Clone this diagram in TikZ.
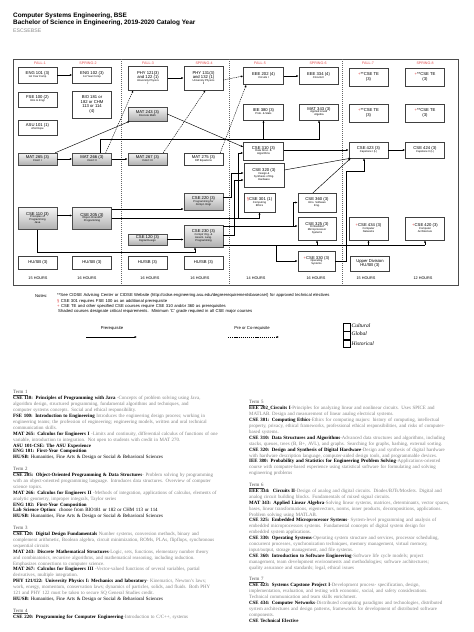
\documentclass[tikz,border=0pt]{standalone}
\usepackage{fontspec}
\setmainfont{Liberation Serif}
\setsansfont{Liberation Sans}
\usetikzlibrary{arrows.meta,calc}
\definecolor{hdr}{RGB}{225,70,70}
\definecolor{dg}{RGB}{128,128,128}
\definecolor{tg}{RGB}{80,80,80}
\newcommand\fs[2]{\fontsize{#1}{#2}\selectfont}
\newcommand\bx[2]{\begin{tabular}{@{}c@{}}#1\\[-1.2pt]{\fs{2.7}{3.1}\begin{tabular}{@{}c@{}}#2\end{tabular}}\end{tabular}}
\newcommand\rd[1]{\textcolor{hdr}{#1}}
\newcommand\dsc[1]{\textcolor{dg}{#1}}
\begin{document}
\begin{tikzpicture}[x=1pt,y=-1pt,
 cbox/.style={draw=black!75, line width=0.45pt, fill=white, inner sep=0.3pt, align=center, font=\sffamily\fs{4.2}{4.7}, minimum width=39pt},
 crit/.style={cbox, top color=gray!8, bottom color=gray!62, draw=black!70},
 arr/.style={-{Latex[length=2.4pt,width=2pt]}, line width=0.45pt},
 coreq/.style={arr, dash pattern=on 1.2pt off 0.9pt},
 hdrl/.style={font=\sffamily\fs{3.6}{4}, text=hdr},
 hrs/.style={font=\sffamily\fs{3.8}{4.2}},
 colsep/.style={line width=0.4pt, black!60, dash pattern=on 1pt off 1pt},
 desc/.style={anchor=north west, inner sep=0, align=left, font=\fs{4.9}{5.9}},
]
\useasboundingbox (0,0) rectangle (474,632);

% title
\node[anchor=west, inner sep=0, font=\sffamily\bfseries\fs{6.4}{7}] (t1) at (13,15.5) {Computer Systems Engineering, BSE};
\node[anchor=west, inner sep=0, font=\sffamily\bfseries\fs{6.4}{7}] (t2) at (13,23) {Bachelor of Science in Engineering, 2019-2020 Catalog Year};
\node[anchor=west, inner sep=0, font=\sffamily\fs{5.2}{6}, text=black!45] (t3) at (13,31) {ESCSEBSE};

% frame
\draw[line width=0.6pt, black!70] (13,59) rectangle (458,285);
\draw[colsep] (121,59) -- (121,285);
\draw[colsep] (229,59) -- (229,285);
\draw[colsep] (342,59) -- (342,285);

% semester headers
\node[hdrl] (h1) at (40,63) {FALL-1};
\node[hdrl] (h2) at (88,63) {SPRING-2};
\node[hdrl] (h3) at (148,63) {FALL-3};
\node[hdrl] (h4) at (204,63) {SPRING-4};
\node[hdrl] (h5) at (260,63) {FALL-5};
\node[hdrl] (h6) at (318,63) {SPRING-6};
\node[hdrl] (h7) at (368,63) {FALL-7};
\node[hdrl] (h8) at (425,63) {SPRING-8};

% column 1
\node[cbox, minimum height=16pt] (eng101) at (37.5,75) {\bx{ENG 101 (3)}{1st Year Comp}};
\node[cbox, minimum height=15pt] (fse100) at (37.5,99.5) {\bx{FSE 100 (2)}{Intro to Engr}};
\node[cbox, minimum height=15pt] (asu101) at (37.5,127.5) {\bx{ASU 101 (1)}{ASU Expe}};
\node[crit, minimum height=12pt] (mat265) at (37.5,159) {\bx{MAT 265 (3)}{CALC I}};
\node[crit, minimum height=22pt] (cse110) at (37.5,218.5) {\bx{CSE 110 (3)}{Principles of\\Programming\\Java}};
\node[cbox, minimum height=13pt] (hu1) at (38,262.5) {HU/SB (3)};
% column 2
\node[cbox, minimum height=16pt] (eng102) at (92,75) {\bx{ENG 102 (3)}{1st Year Comp}};
\node[cbox, minimum height=27pt] (bio) at (92,104.5) {BIO 181 or\\182 or CHM\\113 or 114\\(4)};
\node[crit, minimum height=12pt] (mat266) at (92,159) {\bx{MAT 266 (3)}{CALC II}};
\node[crit, minimum height=22pt] (cse205) at (92,218) {\bx{CSE 205 (3)}{Object-Oriented\\Programming}};
\node[cbox, minimum height=13pt] (hu2) at (92,262.5) {HU/SB (3)};
% column 3
\node[cbox, minimum height=24pt] (phy121) at (148,78) {\bx{PHY 121(3)\\and 122 (1)}{University Physics\\I}};
\node[crit, minimum height=14pt] (mat243) at (147.5,114) {\bx{MAT 243 (3)}{Discrete Math}};
\node[crit, minimum height=12pt] (mat267) at (147.5,159) {\bx{MAT 267 (3)}{CALC III}};
\node[crit, minimum height=11pt] (cse120) at (147.5,239.5) {\bx{CSE 120 (3)}{Digital Design}};
\node[cbox, minimum height=13pt] (hu3) at (147.5,262.5) {HU/SB (3)};
% column 4
\node[cbox, minimum height=24pt] (phy131) at (203.5,78) {\bx{PHY 131(3)\\and 132 (1)}{University Physics\\II}};
\node[cbox, minimum height=12pt] (mat275) at (203.5,159) {\bx{MAT 275 (3)}{Diff Equations}};
\node[crit, minimum height=17pt] (cse220) at (203.5,201.5) {\bx{CSE 220 (3)}{Programming for\\Compt. Engr}};
\node[crit, minimum height=22pt] (cse230) at (203.5,236) {\bx{CSE 230 (3)}{Comptr Org. \&\\Assem. Lang.\\Programming}};
\node[cbox, minimum height=13pt] (hu4) at (203.5,262.5) {HU/SB (3)};
% column 5
\node[cbox, minimum height=17pt, minimum width=40pt] (eee202) at (263.5,76) {\bx{EEE 202 (4)}{Circuits I}};
\node[cbox, minimum height=16pt, minimum width=40pt] (iee380) at (263.5,112) {\bx{IEE 380 (3)}{Prob. \& Stats}};
\node[cbox, minimum height=18pt, minimum width=40pt] (cse310) at (263.5,151) {\bx{CSE 310 (3)}{Data Struc. \&\\Algorithms}};
\node[cbox, minimum height=24pt, minimum width=40pt] (cse320) at (264,175) {\bx{CSE 320 (3)}{Design \&\\Synthesis of Dig.\\Hardware}};
\node[cbox, minimum height=19pt, minimum width=31pt] (cse301) at (259.5,202.5) {\bx{\rd{§}CSE 301 (1)}{Computing\\Ethics}};
% column 6
\node[cbox, minimum height=17pt] (eee334) at (318.5,76) {\bx{EEE 334 (4)}{Circuits II}};
\node[cbox, minimum height=16pt] (mat343) at (319,112) {\bx{MAT 343 (3)}{Applied Linear\\Algebra}};
\node[cbox, minimum height=19pt, minimum width=38pt] (cse360) at (317,202.5) {\bx{CSE 360 (3)}{Intro. Software\\Eng.}};
\node[cbox, minimum height=23pt, minimum width=38pt] (cse325) at (317,228.5) {\bx{CSE 325 (3)}{Embedded\\Microprocessor\\Systems}};
\node[cbox, minimum height=20pt, minimum width=37pt] (cse330) at (316.5,261) {\bx{\rd{+}CSE 330 (3)}{Operating\\Systems}};
% column 7
\node[cbox, minimum height=18pt] (te1) at (368.5,77) {\rd{+}**CSE TE\\(3)};
\node[cbox, minimum height=18pt] (te3) at (368.5,113) {\rd{+}**CSE TE\\(3)};
\node[cbox, minimum height=16pt] (cse423) at (368.5,150) {\bx{CSE 423 (3)}{Capstone I (L)}};
\node[cbox, minimum height=23pt] (cse434) at (368.5,228.5) {\bx{\rd{+}CSE 434 (3)}{Computer\\Networks}};
\node[cbox, minimum height=15pt] (udhu) at (370,263.5) {Upper Division\\HU/SB (3)};
% column 8
\node[cbox, minimum height=18pt] (te2) at (425,77) {\rd{+}**CSE TE\\(3)};
\node[cbox, minimum height=18pt] (te4) at (425,113) {\rd{+}**CSE TE\\(3)};
\node[cbox, minimum height=16pt] (cse424) at (425,150) {\bx{CSE 424 (3)}{Capstone II (L)}};
\node[cbox, minimum height=23pt] (cse420) at (425,228.5) {\bx{\rd{+}CSE 420 (3)}{Computer\\Architecture}};

% hours
\node[hrs] (hr1) at (38,278) {15 HOURS};
\node[hrs] (hr2) at (87,278) {16 HOURS};
\node[hrs] (hr3) at (150,278) {16 HOURS};
\node[hrs] (hr4) at (200,278) {16 HOURS};
\node[hrs] (hr5) at (256,278) {14 HOURS};
\node[hrs] (hr6) at (316,278) {16 HOURS};
\node[hrs] (hr7) at (366,278) {15 HOURS};
\node[hrs] (hr8) at (423,278) {12 HOURS};

% connectors
\draw[arr] (eng101) -- (eng102);
\draw[arr] (phy121) -- (phy131);
\draw[coreq] ([yshift=-2pt]phy131.east) -- (eee202.west);
\draw[arr] (eee202) -- (eee334);
\draw[arr] (mat265) -- (mat266);
\draw[arr] (mat266) -- (mat267);
\draw[arr] ([xshift=-2pt]mat265.north east) -- ([xshift=2pt]mat243.south west);
\draw[coreq] ([xshift=-6pt]mat266.north east) -- ([xshift=5pt]phy121.south west);
\draw[coreq] ([xshift=-4pt]mat267.north east) -- ([xshift=2pt]phy131.south);
\draw[coreq] ([xshift=-3pt]mat275.north east) -- ([xshift=3pt]eee202.south west);
\draw[arr] (mat243.east) -- ([yshift=4pt]cse310.west);
\coordinate (h139) at (0,139);
\draw[arr] ([xshift=8pt]mat266.north) |- (h139 -| mat343.south) -- (mat343.south);
\draw[arr] (h139 -| iee380.south) -- (iee380.south);
\draw[arr] (cse310.east |- cse423.west) -- (cse423.west);
\draw[arr] (cse423) -- (cse424);
\draw[arr] ([yshift=5pt]cse320.east) -- ([xshift=2pt]cse423.south west);
\draw[arr] ([xshift=-4pt]cse360.north) -- ([xshift=2pt]cse423.south west);
\coordinate (c330) at (346,171);
\draw[arr] (cse330.east) -| (c330) -| ([xshift=-4.5pt]cse423.south);
\draw[arr] ([yshift=3pt]cse110.east) -- ([yshift=3pt]cse110.east -| cse205.west);
\draw[arr] ([yshift=9pt]cse205.east) -- ([yshift=9pt]cse205.east -| cse220.west);
\draw[arr] (cse205.east) -| (cse301.south);
\coordinate (j1) at (238,218);
\draw[arr] (j1) |- ([yshift=-2pt]cse310.west);
\coordinate (v1) at (231,173);
\draw[arr] ([yshift=4.5pt]cse220.east) -| (v1) -- (v1 -| cse320.west);
\coordinate (v2) at (234.5,180);
\draw[arr] ([yshift=1pt]cse230.east) -| (v2) -- (v2 -| cse320.west);
\draw[arr] ([yshift=10pt]cse230.east) -- ([yshift=10pt]cse230.east -| cse325.west);
\coordinate (v3) at (293,226);
\draw[arr] (v3) |- (cse360.west);
\coordinate (hb) at (0,245);
\draw[line width=0.45pt] ([yshift=-9pt]cse230.east) -- (hb -| cse420.south);
\draw[arr] (hb -| cse325.south) -- (cse325.south);
\draw[arr] (hb -| cse434.south) -- (cse434.south);
\draw[arr] (hb -| cse420.south) -- (cse420.south);
\coordinate (b330) at (276,245);
\draw[arr] (b330) |- (cse330.west);
\coordinate (lb) at (0,252);
\draw[arr] (cse110.south) |- ([xshift=-8.5pt]cse230.south |- lb) -- ([xshift=-8.5pt]cse230.south);
\draw[arr] (cse120) -- (cse120 -| cse230.west);

% notes
\node[anchor=west, inner sep=0, font=\sffamily\fs{4.2}{5.3}] (notes) at (35,296) {Notes:};
\node[anchor=north west, inner sep=0, align=left, text width=400pt, font=\sffamily\fs{4.2}{5.3}] (notetext) at (57,293.6) {%
**See CIDSE Advising Center or CIDSE Website (http://cidse.engineering.asu.edu/degreerequirementsbasecse/) for approved technical electives\\
\rd{§} CSE 301 requires FSE 100 as an additional prerequisite\\
\rd{+} CSE TE and other specified CSE courses require CSE 310 and/or 360 as prerequisites\\
\hspace*{1pt}Shaded courses designate critical requirements.\ \ Minimum ‘C’ grade required in all CSE major courses};

% legend
\node[font=\sffamily\fs{4.2}{5}] (lg1) at (112,328) {Prerequisite};
\coordinate (lp1) at (86,337);
\coordinate (lp2) at (137,337);
\draw[arr] (lp1) -- (lp2);
\node[font=\sffamily\fs{4.2}{5}] (lg2) at (252,328) {Pre or Co-requisite};
\coordinate (lq1) at (228,337);
\coordinate (lq2) at (279,337);
\draw[coreq] (lq1) -- (lq2);
\node[draw, line width=0.5pt, minimum width=7.5pt, minimum height=7.5pt, inner sep=0] (cb1) at (346.5,327) {};
\node[draw, line width=0.5pt, minimum width=7.5pt, minimum height=7.5pt, inner sep=0] (cb2) at (346.5,335) {};
\node[draw, line width=0.5pt, minimum width=7.5pt, minimum height=7.5pt, inner sep=0] (cb3) at (346.5,343.5) {};
\node[anchor=west, inner sep=1pt, font=\itshape\fs{5.5}{6}] (cl1) at ([yshift=1pt]cb1.east) {Cultural};
\node[anchor=west, inner sep=1pt, font=\itshape\fs{5.5}{6}] (cl2) at ([yshift=1pt]cb2.east) {Global};
\node[anchor=west, inner sep=1pt, font=\itshape\fs{5.5}{6}] (cl3) at (cb3.east) {Historical};

% descriptions, left column
\node[desc, text width=232pt] (descL) at (13,390.5) {%
\textcolor{tg}{\underline{Term 1}}\\
\textbf{CSE 110: Principles of Programming with Java} \dsc{-Concepts of problem solving using Java,}\\
\dsc{algorithm design, structured programming, fundamental algorithms and techniques, and}\\
\dsc{computer systems concepts. Social and ethical responsibility.}\\
\textbf{FSE 100: Introduction to Engineering} \dsc{Introduces the engineering design process; working in}\\
\dsc{engineering teams; the profession of engineering; engineering models, written and oral technical}\\
\dsc{communication skills.}\\
\textbf{MAT 265: Calculus for Engineers I} \dsc{-Limits and continuity, differential calculus of functions of one}\\
\dsc{variable, introduction to integration. Not open to students with credit in MAT 270.}\\
\textbf{ASU 101-CSE: The ASU Experience}\\
\textbf{ENG 101: First-Year Composition}\\
\textbf{HU/SB}: Humanities, Fine Arts \& Design or Social \& Behavioral Sciences\\[5.9pt]
\textcolor{tg}{\underline{Term 2}}\\
\textbf{CSE 205: Object-Oriented Programming \& Data Structures}\dsc{- Problem solving by programming}\\
\dsc{with an object-oriented programming language. Introduces data structures. Overview of computer}\\
\dsc{science topics.}\\
\textbf{MAT 266: Calculus for Engineers II} \dsc{-Methods of integration, applications of calculus, elements of}\\
\dsc{analytic geometry, improper integrals, Taylor series}\\
\textbf{ENG 102: First-Year Composition}\\
\textbf{Lab Science Option}: choose from BIO181 or 182 or CHM 113 or 114\\
\textbf{HU/SB}: Humanities, Fine Arts \& Design or Social \& Behavioral Sciences\\[5.9pt]
\textcolor{tg}{\underline{Term 3}}\\
\textbf{CSE 120: Digital Design Fundamentals} \dsc{Number systems, conversion methods, binary and}\\
\dsc{complement arithmetic, Boolean algebra, circuit minimization, ROMs, PLAs, flipflops, synchronous}\\
\dsc{sequential circuits}\\
\textbf{MAT 243: Discrete Mathematical Structures}\dsc{-Logic, sets, functions, elementary number theory}\\
\dsc{and combinatorics, recursive algorithms, and mathematical reasoning, including induction.}\\
\dsc{Emphasizes connections to computer science.}\\
\textbf{MAT 267: Calculus for Engineers III} \dsc{-Vector-valued functions of several variables, partial}\\
\dsc{derivatives, multiple integration.}\\
\textbf{PHY 121/122: University Physics I: Mechanics and laboratory}\dsc{- Kinematics, Newton's laws;}\\
\dsc{work, energy, momentum, conservation laws; dynamics of particles, solids, and fluids. Both PHY}\\
\dsc{121 and PHY 122 must be taken to secure SQ General Studies credit.}\\
\textbf{HU/SB}: Humanities, Fine Arts \& Design or Social \& Behavioral Sciences\\[5.9pt]
\textcolor{tg}{\underline{Term 4}}\\
\textbf{CSE 220: Programming for Computer Engineering}\dsc{-Introduction to C/C++, systems}};

% descriptions, right column
\node[desc, text width=222pt] (descR) at (249,400.5) {%
\textcolor{tg}{\underline{Term 5}}\\
\textbf{EEE 202\_Circuits I}\dsc{-Principles for analyzing linear and nonlinear circuits. Uses SPICE and}\\
\dsc{MATLAB. Design and measurement of linear analog electrical systems.}\\
\textbf{CSE 301: Computing Ethics}\dsc{-Ethics for computing majors: history of computing, intellectual}\\
\dsc{property, privacy, ethical frameworks, professional ethical responsibilities, and risks of computer-}\\
\dsc{based systems.}\\
\textbf{CSE 310: Data Structures and Algorithms}\dsc{-Advanced data structures and algorithms, including}\\
\dsc{stacks, queues, trees (B, B+, AVL), and graphs. Searching for graphs, hashing, external sorting.}\\
\textbf{CSE 320: Design and Synthesis of Digital Hardware}\dsc{-Design and synthesis of digital hardware}\\
\dsc{with hardware description language, computer-aided design tools, and programmable devices.}\\
\textbf{IEE 380: Probability and Statistics for Engineering Problem Solving}\dsc{-Applications-oriented}\\
\dsc{course with computer-based experience using statistical software for formulating and solving}\\
\dsc{engineering problems}\\[5.9pt]
\textcolor{tg}{\underline{Term 6}}\\
\textbf{EEE 334:\ \ Circuits II}\dsc{-Design of analog and digital circuits. Diodes/BJTs/Mosfets. Digital and}\\
\dsc{analog circuit building blocks. Fundamentals of mixed signal circuits.}\\
\textbf{MAT 343: Applied Linear Algebra}\dsc{-Solving linear systems, matrices, determinants, vector spaces,}\\
\dsc{bases, linear transformations, eigenvectors, norms, inner products, decompositions, applications.}\\
\dsc{Problem solving using MATLAB.}\\
\textbf{CSE 325: Embedded Microprocessor Systems}\dsc{- System-level programming and analysis of}\\
\dsc{embedded microprocessors systems. Fundamental concepts of digital system design for}\\
\dsc{embedded system applications.}\\
\textbf{CSE 330: Operating Systems}\dsc{-Operating system structure and services, processor scheduling,}\\
\dsc{concurrent processes, synchronization techniques, memory management, virtual memory,}\\
\dsc{input/output, storage management, and file systems.}\\
\textbf{CSE 360: Introduction to Software Engineering}\dsc{-Software life cycle models; project}\\
\dsc{management, team development environments and methodologies; software architectures;}\\
\dsc{quality assurance and standards; legal, ethical issues}\\[5.9pt]
\textcolor{tg}{\underline{Term 7}}\\
\textbf{CSE 423: Systems Capstone Project I}\dsc{-Development process- specification, design,}\\
\dsc{implementation, evaluation, and testing with economic, social, and safety considerations.}\\
\dsc{Technical communication and team skills enrichment.}\\
\textbf{CSE 434: Computer Networks}\dsc{-Distributed computing paradigms and technologies, distributed}\\
\dsc{system architectures and design patterns, frameworks for development of distributed software}\\
\dsc{components.}\\
\textbf{CSE Technical Elective}};
\end{tikzpicture}
\end{document}
